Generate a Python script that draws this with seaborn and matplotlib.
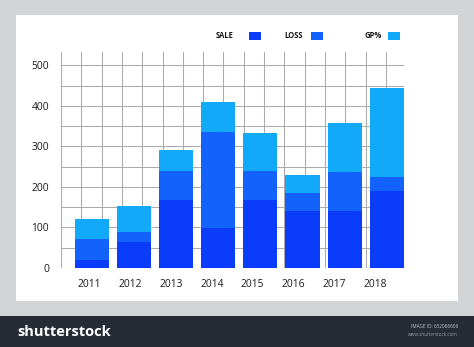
import numpy as np
import pandas as pd
import matplotlib
matplotlib.use("Agg")
import matplotlib.pyplot as plt
from matplotlib.patches import Rectangle
from matplotlib.ticker import FixedLocator, MultipleLocator
import seaborn as sns

# Yearly figures, stacked bottom to top: SALE, LOSS, GP%
years = ["2011", "2012", "2013", "2014", "2015", "2016", "2017", "2018"]
sale = [20, 64, 167, 99, 167, 141, 141, 190]
loss = [51, 26, 72, 237, 72, 45, 97, 35]
gp = [51, 64, 51, 74, 95, 43, 119, 218]

series_names = ["SALE", "LOSS", "GP%"]
series_colors = ["#0a3cfa", "#1262fb", "#12aaf8"]

sns.set_theme(style="white")
plt.rcParams["font.family"] = ["Open Sans", "DejaVu Sans"]

W, H = 474, 347
fig = plt.figure(figsize=(W / 100, H / 100), dpi=100)
fig.patch.set_facecolor("#d3d4d6")


def fx(px):
    return px / W


def fy(py):
    return 1 - py / H


# white card and dark footer strip (kept behind the axes)
fig.patches.append(Rectangle((fx(16), fy(301)), fx(442), 286 / H,
                             transform=fig.transFigure, facecolor="white",
                             edgecolor="none", zorder=-10))
fig.patches.append(Rectangle((0, 0), 1, 31 / H, transform=fig.transFigure,
                             facecolor="#262b35", edgecolor="none", zorder=-10))

ax = fig.add_axes([fx(61), fy(268), fx(343), 216 / H])
ax.set_zorder(5)
ax.set_facecolor("none")

df = pd.DataFrame({"year": years, "sale": sale, "loss": loss, "gp": gp})
df["sale_loss"] = df["sale"] + df["loss"]
df["total"] = df["sale_loss"] + df["gp"]

bar_w = 0.81
for col, color in zip(["total", "sale_loss", "sale"], series_colors[::-1]):
    sns.barplot(data=df, x="year", y=col, color=color, width=bar_w,
                saturation=1, ax=ax, zorder=3, linewidth=0, edgecolor="none")

# axis ranges: one category step = 42.1 px
px_per_cat = 42.1
x_left = -31 / px_per_cat
x_right = 312 / px_per_cat
ax.set_xlim(x_left, x_right)
ax.set_ylim(0, 533)

# grid: square cells of 50 units
ax.yaxis.set_major_locator(MultipleLocator(100))
ax.yaxis.set_minor_locator(MultipleLocator(50))
grid_step = 20.3 / px_per_cat
ax.xaxis.set_minor_locator(FixedLocator(np.arange(x_left, 7.0, grid_step)))
label_pos = (np.array([89, 130.3, 171.3, 212, 252.7, 293.3, 334.3, 375]) - 92) / px_per_cat
ax.xaxis.set_major_locator(FixedLocator(label_pos))
ax.set_xticklabels(years)
grid_kw = dict(color="#ababab", linewidth=0.75)
ax.grid(which="both", axis="y", **grid_kw)
ax.grid(which="minor", axis="x", **grid_kw)
ax.grid(which="major", axis="x", visible=False)
ax.set_axisbelow(True)

ax.tick_params(axis="both", which="both", length=0)
ax.tick_params(axis="x", pad=8, labelsize=7.4, labelcolor="#1a1a1a")
ax.tick_params(axis="y", pad=8.5, labelsize=7.4, labelcolor="#1a1a1a")
ax.set_xlabel("")
ax.set_ylabel("")
for s in ax.spines.values():
    s.set_visible(False)

# legend: label followed by a colour swatch
legend_items = [(series_names[0], 234, 249), (series_names[1], 303, 311),
                (series_names[2], 382, 388)]
for (name, tx, sx), color in zip(legend_items, series_colors):
    fig.text(fx(tx), fy(36), name, ha="right", va="center", fontsize=5.5,
             fontweight="bold", color="#1a1a1a")
    fig.patches.append(Rectangle((fx(sx), fy(40)), fx(11.5), 8 / H,
                                 transform=fig.transFigure, facecolor=color,
                                 edgecolor="none"))

# footer text
fig.text(fx(17), fy(332), "shutterstock", ha="left", va="center",
         fontsize=10.5, fontweight="bold", color="white")
fig.text(fx(458), fy(327), "IMAGE ID: 652066606", ha="right", va="center",
         fontsize=3.3, color="#c8cacd")
fig.text(fx(458), fy(334), "www.shutterstock.com", ha="right", va="center",
         fontsize=3.3, color="#9a9da3")

fig.savefig("out.png", dpi=100, facecolor=fig.get_facecolor())
